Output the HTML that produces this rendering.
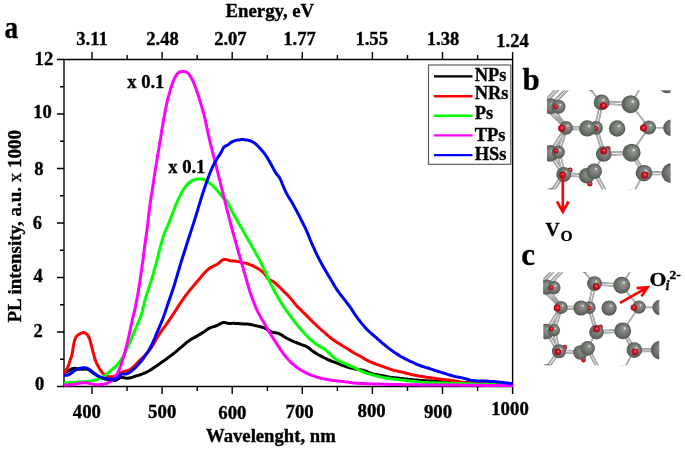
<!DOCTYPE html>
<html><head><meta charset="utf-8"><title>PL spectra</title>
<style>html,body{margin:0;padding:0;background:#fff;}svg{display:block;}</style>
</head><body>
<svg width="685" height="452" viewBox="0 0 685 452">
<rect width="685" height="452" fill="#fff"/>
<defs>
<radialGradient id="gz" cx="0.5" cy="0.5" r="0.5" fx="0.64" fy="0.33">
<stop offset="0" stop-color="#ffffff"/><stop offset="0.07" stop-color="#d0d4d0"/><stop offset="0.2" stop-color="#8d928d"/>
<stop offset="0.6" stop-color="#747973"/><stop offset="1" stop-color="#535853"/></radialGradient>
<radialGradient id="go" cx="0.5" cy="0.5" r="0.5" fx="0.6" fy="0.4">
<stop offset="0" stop-color="#ff8a8a"/><stop offset="0.35" stop-color="#e0202a"/>
<stop offset="1" stop-color="#a00010"/></radialGradient>
<clipPath id="cb"><rect x="547" y="90.3" width="123.6" height="99"/></clipPath>
<clipPath id="cc"><path d="M547,90.3H648V96H670.6V189.3H547Z"/></clipPath>
<clipPath id="plot"><rect x="64" y="59.5" width="449" height="328"/></clipPath>
</defs>
<path d="M64.0,59.5H512.6V386.5H64.0Z" fill="none" stroke="#000" stroke-width="1.4"/>
<path d="M92.0,386.5V394.0M92.0,59.5V52.0M127.1,386.5V391.0M127.1,59.5V55.0M162.1,386.5V394.0M162.1,59.5V52.0M197.2,386.5V391.0M197.2,59.5V55.0M232.2,386.5V394.0M232.2,59.5V52.0M267.3,386.5V391.0M267.3,59.5V55.0M302.3,386.5V394.0M302.3,59.5V52.0M337.4,386.5V391.0M337.4,59.5V55.0M372.4,386.5V394.0M372.4,59.5V52.0M407.5,386.5V391.0M407.5,59.5V55.0M442.5,386.5V394.0M442.5,59.5V52.0M477.6,386.5V391.0M477.6,59.5V55.0M512.6,386.5V394.0M512.6,59.5V52.0M64.0,386.5H57.0M64.0,359.2H60.0M64.0,332.0H57.0M64.0,304.8H60.0M64.0,277.5H57.0M64.0,250.2H60.0M64.0,223.0H57.0M64.0,195.8H60.0M64.0,168.5H57.0M64.0,141.2H60.0M64.0,114.0H57.0M64.0,86.8H60.0M64.0,59.5H57.0" fill="none" stroke="#000" stroke-width="1.4"/>
<g clip-path="url(#plot)" fill="none" stroke-width="3" stroke-linejoin="round" stroke-linecap="round">
<path d="M64.8,372.3 65.7,372.0 67.0,371.5 68.4,370.9 69.7,370.1 70.9,369.4 72.3,368.7 73.7,368.4 75.1,368.3 76.6,368.6 78.0,369.0 79.5,369.2 81.0,369.3 82.4,369.2 83.9,369.0 85.4,368.9 86.8,369.1 88.2,369.6 89.5,370.3 90.8,371.1 92.0,372.0 93.2,372.9 94.4,373.7 95.7,374.6 96.9,375.4 98.2,376.1 99.5,376.8 100.9,377.5 102.2,378.1 103.6,378.6 105.1,379.0 106.6,379.3 108.0,379.6 109.5,379.9 111.0,380.2 112.5,380.4 113.9,380.4 115.4,380.3 116.8,379.9 118.0,379.1 119.2,378.2 120.4,377.6 121.8,377.4 123.3,377.5 124.7,377.9 126.2,378.2 127.6,378.3 129.1,378.1 130.5,377.8 131.9,377.3 133.4,376.8 134.8,376.3 136.2,375.9 137.7,375.5 139.1,375.1 140.5,374.7 141.9,374.1 143.3,373.6 144.7,373.0 146.1,372.4 147.4,371.7 148.7,371.0 150.0,370.2 151.3,369.4 152.6,368.6 153.8,367.8 155.1,366.9 156.3,366.1 157.5,365.2 158.7,364.4 160.0,363.5 161.2,362.6 162.4,361.8 163.7,360.9 164.9,360.1 166.1,359.2 167.3,358.3 168.5,357.4 169.7,356.5 170.9,355.6 172.1,354.7 173.3,353.8 174.5,352.8 175.6,351.9 176.8,351.0 177.9,350.0 179.1,349.0 180.2,348.0 181.4,347.1 182.5,346.1 183.6,345.1 184.8,344.1 185.9,343.2 187.1,342.2 188.2,341.3 189.5,340.4 190.7,339.6 192.0,338.8 193.3,338.1 194.6,337.4 196.0,336.6 197.3,335.9 198.5,335.1 199.8,334.4 201.1,333.6 202.4,332.8 203.7,332.0 204.9,331.2 206.1,330.3 207.3,329.4 208.6,328.6 209.9,327.9 211.3,327.4 212.7,326.9 214.2,326.5 215.6,326.0 217.0,325.4 218.3,324.8 219.6,324.1 221.0,323.4 222.3,322.8 223.7,322.4 225.1,322.6 226.5,323.0 228.0,323.3 229.4,323.4 230.9,323.4 232.4,323.3 233.9,323.3 235.4,323.4 236.9,323.5 238.4,323.6 239.9,323.7 241.4,323.8 242.9,323.9 244.4,323.9 245.9,324.0 247.4,324.1 248.9,324.3 250.4,324.5 251.8,324.8 253.3,325.1 254.8,325.5 256.2,325.8 257.7,326.1 259.2,326.5 260.6,326.8 262.1,327.2 263.5,327.6 264.9,328.2 266.2,328.8 267.5,329.6 268.7,330.4 270.0,331.2 271.4,331.8 272.8,332.3 274.3,332.6 275.7,332.8 277.2,333.1 278.6,333.5 280.0,334.1 281.3,334.8 282.5,335.6 283.8,336.5 285.1,337.3 286.4,338.0 287.7,338.7 289.0,339.4 290.4,340.0 291.7,340.7 293.1,341.3 294.5,341.9 295.9,342.4 297.3,343.0 298.7,343.5 300.1,344.1 301.5,344.6 302.9,345.1 304.3,345.6 305.7,346.2 307.0,346.8 308.3,347.5 309.5,348.5 310.6,349.5 311.7,350.4 312.9,351.3 314.2,352.1 315.5,352.9 316.7,353.7 318.0,354.5 319.3,355.2 320.6,355.9 322.0,356.6 323.3,357.3 324.6,358.0 326.0,358.7 327.3,359.3 328.7,359.9 330.1,360.5 331.5,361.1 332.9,361.7 334.3,362.2 335.7,362.7 337.1,363.2 338.5,363.7 339.9,364.3 341.3,364.8 342.7,365.4 344.1,365.9 345.5,366.4 346.9,366.9 348.3,367.4 349.8,367.8 351.2,368.1 352.7,368.4 354.2,368.7 355.6,369.0 357.1,369.2 358.6,369.5 360.1,369.7 361.6,369.9 363.0,370.2 364.5,370.6 365.9,371.1 367.2,371.7 368.6,372.4 370.0,372.9 371.4,373.4 372.8,373.9 374.3,374.2 375.8,374.4 377.3,374.7 378.7,374.9 380.2,375.2 381.7,375.4 383.2,375.8 384.6,376.1 386.1,376.4 387.6,376.7 389.0,376.9 390.5,377.2 392.0,377.4 393.5,377.6 395.0,377.7 396.5,377.9 398.0,378.1 399.5,378.3 401.0,378.4 402.4,378.6 403.9,378.8 405.4,378.9 406.9,379.1 408.4,379.3 409.9,379.4 411.4,379.6 412.9,379.7 414.4,379.9 415.9,380.0 417.4,380.1 418.9,380.3 420.4,380.4 421.8,380.5 423.3,380.6 424.8,380.7 426.3,380.8 427.8,380.9 429.3,381.0 430.8,381.1 432.3,381.1 433.8,381.2 435.3,381.3 436.8,381.3 438.3,381.4 439.8,381.5 441.3,381.5 442.8,381.5 444.3,381.5 445.8,381.6 447.3,381.6 448.8,381.6 450.3,381.7 451.8,381.7 453.3,381.8 454.8,381.8 456.3,381.9 457.8,382.0 459.3,382.1 460.8,382.2 462.3,382.3 463.8,382.4 465.3,382.5 466.8,382.6 468.3,382.7 469.8,382.8 471.3,382.9 472.8,383.0 474.3,383.1 475.8,383.2 477.3,383.3 478.8,383.4 480.3,383.5 481.8,383.6 483.3,383.7 484.8,383.7 486.3,383.8 487.7,383.9 489.2,384.0 490.7,384.0 492.2,384.1 493.7,384.2 495.2,384.2 496.7,384.3 498.2,384.4 499.7,384.4 501.2,384.5 502.7,384.6 504.2,384.6 505.7,384.7 507.2,384.8 508.7,384.8 510.2,384.9 511.4,385.0" stroke="#000"/>
<path d="M64.5,372.6 65.1,371.8 65.9,370.6 66.7,369.4 67.4,368.1 68.0,366.7 68.5,365.3 69.0,363.9 69.5,362.4 69.9,361.0 70.4,359.6 70.9,358.2 71.4,356.7 71.8,355.3 72.1,353.8 72.4,352.4 72.7,350.9 72.9,349.4 73.1,347.9 73.3,346.5 73.6,345.0 73.9,343.5 74.2,342.0 74.6,340.6 75.1,339.2 75.6,337.8 76.4,336.5 77.4,335.5 78.6,334.6 79.9,333.8 81.2,333.1 82.6,332.7 84.0,332.6 85.3,333.1 86.5,333.9 87.5,335.0 88.3,336.2 89.0,337.5 89.6,338.9 90.0,340.4 90.4,341.8 90.8,343.3 91.1,344.7 91.5,346.2 91.9,347.6 92.3,349.1 92.6,350.5 93.0,352.0 93.4,353.4 93.8,354.9 94.2,356.3 94.6,357.8 95.1,359.2 95.6,360.6 96.1,362.0 96.7,363.4 97.4,364.7 98.1,366.0 98.8,367.4 99.5,368.7 100.3,369.9 101.1,371.2 102.0,372.4 103.0,373.5 104.1,374.5 105.3,375.4 106.6,376.0 108.0,376.5 109.5,376.7 111.0,376.8 112.5,376.7 113.9,376.5 115.4,376.0 116.7,375.4 118.0,374.7 119.3,373.9 120.5,373.0 121.8,372.3 123.2,371.8 124.6,371.4 126.1,371.0 127.5,370.7 128.9,370.2 130.2,369.5 131.4,368.6 132.5,367.6 133.6,366.5 134.7,365.5 135.8,364.5 136.8,363.4 137.9,362.3 138.9,361.3 140.0,360.2 141.1,359.2 142.1,358.1 143.2,357.1 144.3,356.0 145.3,354.9 146.4,353.8 147.3,352.7 148.3,351.6 149.3,350.4 150.2,349.2 151.1,348.0 151.9,346.8 152.7,345.5 153.5,344.2 154.2,342.9 154.9,341.6 155.6,340.3 156.4,339.0 157.1,337.7 157.9,336.4 158.8,335.1 159.6,333.9 160.4,332.7 161.3,331.4 162.1,330.2 163.0,329.0 163.9,327.7 164.8,326.5 165.7,325.3 166.5,324.1 167.4,322.9 168.3,321.7 169.1,320.4 169.9,319.2 170.8,317.9 171.6,316.7 172.4,315.4 173.2,314.2 174.0,312.9 174.9,311.6 175.7,310.4 176.5,309.1 177.3,307.9 178.1,306.6 178.9,305.3 179.7,304.1 180.6,302.8 181.4,301.6 182.3,300.3 183.1,299.1 184.0,297.9 184.9,296.7 185.7,295.5 186.6,294.3 187.6,293.1 188.5,291.9 189.4,290.7 190.4,289.6 191.3,288.4 192.3,287.3 193.3,286.1 194.2,285.0 195.2,283.8 196.2,282.7 197.1,281.5 198.1,280.4 199.1,279.2 200.0,278.1 201.0,277.0 202.0,275.8 203.0,274.7 203.9,273.5 204.9,272.4 206.0,271.3 207.0,270.3 208.2,269.3 209.4,268.4 210.7,267.6 212.0,266.9 213.3,266.2 214.6,265.5 216.0,264.9 217.3,264.2 218.5,263.3 219.6,262.3 220.7,261.3 221.9,260.4 223.1,259.7 224.5,259.4 225.9,259.5 227.4,259.8 228.8,260.3 230.2,260.7 231.7,261.0 233.2,261.0 234.7,261.1 236.1,261.2 237.6,261.5 239.1,261.8 240.6,262.1 242.0,262.4 243.5,262.8 244.9,263.1 246.4,263.4 247.8,263.8 249.3,264.3 250.7,264.8 252.0,265.4 253.4,266.1 254.7,266.8 256.0,267.5 257.3,268.3 258.6,269.0 259.9,269.8 261.1,270.7 262.3,271.6 263.4,272.6 264.4,273.7 265.3,274.9 266.2,276.1 267.1,277.3 268.0,278.5 269.1,279.5 270.3,280.1 271.6,280.7 272.9,281.4 274.1,282.3 275.3,283.2 276.4,284.2 277.5,285.2 278.6,286.2 279.7,287.2 280.8,288.3 281.8,289.4 282.9,290.4 283.9,291.5 285.0,292.6 286.1,293.6 287.1,294.7 288.2,295.7 289.2,296.8 290.2,297.9 291.2,299.1 292.1,300.2 293.1,301.4 294.0,302.6 294.9,303.7 295.9,304.9 296.9,306.0 298.0,307.1 299.0,308.1 300.1,309.2 301.2,310.2 302.2,311.3 303.3,312.3 304.4,313.4 305.4,314.4 306.5,315.5 307.6,316.6 308.6,317.6 309.7,318.7 310.7,319.8 311.8,320.8 312.8,321.9 313.9,323.0 315.0,324.0 316.1,325.0 317.2,326.1 318.3,327.1 319.4,328.1 320.5,329.1 321.6,330.1 322.8,331.1 323.9,332.0 325.0,333.0 326.1,334.0 327.3,335.0 328.4,336.0 329.5,337.0 330.7,338.0 331.9,338.9 333.1,339.8 334.3,340.6 335.6,341.4 336.8,342.2 338.1,343.0 339.4,343.8 340.7,344.6 341.9,345.4 343.2,346.2 344.5,347.0 345.8,347.7 347.0,348.5 348.3,349.3 349.6,350.1 350.8,350.9 352.1,351.7 353.4,352.6 354.6,353.3 356.0,354.0 357.3,354.7 358.6,355.4 360.0,356.1 361.3,356.8 362.6,357.6 363.8,358.4 365.1,359.2 366.4,359.9 367.8,360.6 369.1,361.2 370.5,361.8 371.9,362.4 373.3,363.0 374.6,363.5 376.0,364.1 377.4,364.6 378.8,365.2 380.2,365.7 381.7,366.2 383.1,366.7 384.5,367.2 385.9,367.7 387.3,368.2 388.7,368.7 390.2,369.2 391.6,369.6 393.0,370.1 394.5,370.5 395.9,370.8 397.4,371.1 398.8,371.5 400.3,371.8 401.8,372.1 403.2,372.4 404.7,372.8 406.2,373.2 407.6,373.5 409.1,373.9 410.5,374.3 412.0,374.6 413.4,374.9 414.9,375.2 416.4,375.5 417.8,375.8 419.3,376.1 420.8,376.4 422.3,376.6 423.8,376.8 425.2,377.0 426.7,377.3 428.2,377.5 429.7,377.7 431.2,377.9 432.7,378.1 434.2,378.3 435.6,378.6 437.1,378.8 438.6,379.0 440.1,379.1 441.6,379.3 443.1,379.4 444.6,379.6 446.1,379.7 447.6,379.9 449.1,380.0 450.5,380.2 452.0,380.4 453.5,380.6 455.0,380.9 456.4,381.3 457.9,381.6 459.4,382.0 460.8,382.2 462.3,382.4 463.8,382.6 465.3,382.8 466.8,382.9 468.3,383.1 469.8,383.2 471.3,383.3 472.8,383.4 474.3,383.5 475.8,383.5 477.3,383.6 478.8,383.6 480.3,383.6 481.8,383.6 483.3,383.6 484.8,383.6 486.3,383.6 487.8,383.6 489.3,383.7 490.8,383.7 492.3,383.7 493.8,383.8 495.3,383.8 496.8,383.9 498.3,383.9 499.8,384.0 501.3,384.0 502.8,384.1 504.3,384.2 505.8,384.2 507.3,384.3 508.8,384.3 510.2,384.4 511.5,384.5" stroke="#ff0000"/>
<path d="M64.6,382.9 65.6,382.8 67.0,382.7 68.5,382.7 70.0,382.6 71.5,382.5 73.0,382.4 74.5,382.3 76.0,382.2 77.5,382.1 79.0,382.0 80.5,381.9 82.0,381.8 83.5,381.7 85.0,381.6 86.5,381.5 88.0,381.4 89.4,381.3 90.9,381.0 92.4,380.8 93.9,380.4 95.3,380.0 96.7,379.5 98.1,379.0 99.5,378.4 100.8,377.7 102.2,377.1 103.5,376.4 104.8,375.6 106.0,374.7 107.1,373.7 108.3,372.7 109.4,371.8 110.5,370.8 111.7,369.9 112.9,368.9 114.0,368.0 115.2,367.0 116.2,365.9 117.2,364.8 118.2,363.7 119.1,362.5 120.0,361.3 120.9,360.1 121.7,358.8 122.5,357.6 123.3,356.3 124.0,355.0 124.7,353.6 125.4,352.3 126.0,350.9 126.6,349.6 127.2,348.2 127.9,346.8 128.5,345.4 129.1,344.1 129.7,342.7 130.3,341.3 130.8,339.9 131.4,338.6 132.0,337.2 132.6,335.8 133.2,334.4 133.8,333.0 134.4,331.7 135.0,330.3 135.6,328.9 136.1,327.5 136.7,326.1 137.3,324.7 137.9,323.4 138.4,322.0 139.0,320.6 139.6,319.2 140.2,317.8 140.7,316.4 141.2,315.0 141.7,313.6 142.1,312.1 142.4,310.7 142.8,309.2 143.1,307.8 143.5,306.3 143.8,304.9 144.2,303.4 144.5,301.9 144.9,300.5 145.3,299.0 145.7,297.6 146.1,296.2 146.6,294.7 147.0,293.3 147.5,291.9 148.0,290.5 148.5,289.0 148.9,287.6 149.4,286.2 149.9,284.7 150.3,283.3 150.8,281.9 151.2,280.5 151.7,279.0 152.1,277.6 152.5,276.2 153.0,274.7 153.4,273.3 153.8,271.8 154.2,270.4 154.6,269.0 155.0,267.5 155.4,266.1 155.8,264.6 156.2,263.2 156.6,261.7 157.0,260.3 157.4,258.8 157.7,257.4 158.1,255.9 158.4,254.4 158.8,253.0 159.1,251.5 159.5,250.1 159.9,248.6 160.3,247.2 160.6,245.7 161.0,244.3 161.4,242.8 161.9,241.4 162.3,240.0 162.7,238.5 163.2,237.1 163.6,235.7 164.1,234.2 164.6,232.8 165.2,231.4 165.8,230.1 166.4,228.7 167.0,227.3 167.6,225.9 168.2,224.6 168.8,223.2 169.3,221.8 169.9,220.4 170.4,219.0 170.9,217.6 171.5,216.2 172.0,214.8 172.5,213.4 173.0,212.0 173.6,210.6 174.1,209.2 174.7,207.8 175.2,206.4 175.8,205.0 176.4,203.6 177.0,202.3 177.6,200.9 178.2,199.5 178.9,198.2 179.5,196.8 180.2,195.4 180.8,194.1 181.5,192.8 182.3,191.5 183.0,190.2 183.8,188.9 184.7,187.7 185.5,186.5 186.5,185.3 187.5,184.2 188.6,183.1 189.7,182.2 191.0,181.4 192.3,180.7 193.7,180.1 195.1,179.6 196.5,179.3 198.0,179.1 199.5,179.0 201.0,179.1 202.5,179.2 203.9,179.6 205.3,180.1 206.6,180.8 207.9,181.7 209.1,182.6 210.2,183.5 211.4,184.5 212.5,185.5 213.6,186.5 214.6,187.6 215.6,188.7 216.6,189.8 217.6,191.0 218.5,192.1 219.5,193.3 220.4,194.5 221.3,195.7 222.3,196.8 223.4,197.8 224.5,198.7 225.7,199.7 226.6,200.8 227.4,202.0 228.2,203.3 228.9,204.7 229.5,206.0 230.2,207.4 230.8,208.7 231.4,210.1 232.1,211.4 232.8,212.8 233.5,214.1 234.2,215.4 235.0,216.7 235.7,218.0 236.5,219.3 237.2,220.6 238.0,221.9 238.7,223.2 239.5,224.5 240.2,225.8 241.0,227.1 241.7,228.4 242.4,229.7 243.2,231.0 243.9,232.3 244.7,233.6 245.4,234.9 246.1,236.2 246.9,237.5 247.6,238.9 248.4,240.2 249.1,241.5 249.9,242.8 250.6,244.1 251.4,245.4 252.1,246.7 252.9,248.0 253.6,249.2 254.4,250.6 255.1,251.9 255.8,253.2 256.6,254.5 257.3,255.8 258.0,257.1 258.7,258.4 259.4,259.8 260.1,261.1 260.8,262.4 261.4,263.8 262.1,265.1 262.8,266.5 263.4,267.8 264.1,269.2 264.7,270.5 265.4,271.9 266.0,273.2 266.6,274.6 267.1,276.0 267.7,277.4 268.3,278.8 269.0,280.1 269.6,281.5 270.2,282.8 270.9,284.2 271.6,285.5 272.2,286.9 272.9,288.2 273.6,289.5 274.3,290.9 275.0,292.2 275.7,293.5 276.5,294.8 277.2,296.1 277.9,297.4 278.7,298.7 279.5,300.0 280.3,301.3 281.0,302.6 281.9,303.8 282.7,305.1 283.5,306.3 284.3,307.6 285.2,308.8 286.0,310.0 286.9,311.3 287.8,312.5 288.6,313.7 289.5,314.9 290.4,316.1 291.3,317.4 292.2,318.6 293.1,319.7 294.0,320.9 294.9,322.1 295.9,323.3 296.8,324.5 297.7,325.6 298.7,326.8 299.7,327.9 300.6,329.1 301.6,330.2 302.6,331.3 303.6,332.5 304.6,333.6 305.6,334.7 306.7,335.8 307.7,336.8 308.8,337.9 309.8,338.9 310.9,340.0 312.1,340.9 313.2,341.9 314.4,342.8 315.6,343.7 316.9,344.5 318.1,345.3 319.4,346.1 320.7,346.9 322.0,347.6 323.3,348.4 324.5,349.2 325.7,350.1 326.9,351.1 328.0,352.1 329.0,353.2 330.1,354.2 331.2,355.3 332.3,356.3 333.4,357.3 334.6,358.2 335.8,359.0 337.1,359.8 338.4,360.6 339.7,361.3 341.1,361.9 342.4,362.6 343.8,363.2 345.2,363.8 346.5,364.4 347.9,365.0 349.3,365.5 350.7,366.0 352.1,366.6 353.5,367.2 354.9,367.8 356.2,368.5 357.5,369.2 358.8,369.9 360.2,370.6 361.5,371.3 362.9,371.9 364.3,372.4 365.7,372.9 367.1,373.4 368.6,373.8 370.0,374.2 371.5,374.6 372.9,375.0 374.3,375.4 375.8,375.8 377.3,376.1 378.7,376.5 380.2,376.8 381.6,377.1 383.1,377.4 384.6,377.7 386.1,378.0 387.6,378.2 389.0,378.4 390.5,378.7 392.0,378.9 393.5,379.0 395.0,379.2 396.5,379.4 398.0,379.6 399.4,379.8 400.9,379.9 402.4,380.1 403.9,380.3 405.4,380.5 406.9,380.7 408.4,380.8 409.9,381.0 411.4,381.2 412.9,381.3 414.3,381.5 415.8,381.7 417.3,381.8 418.8,382.0 420.3,382.1 421.8,382.3 423.3,382.4 424.8,382.5 426.3,382.6 427.8,382.6 429.3,382.7 430.8,382.7 432.3,382.8 433.8,382.8 435.3,382.8 436.8,382.9 438.3,382.9 439.8,383.0 441.3,383.0 442.8,383.0 444.3,383.1 445.8,383.1 447.3,383.2 448.8,383.2 450.3,383.3 451.8,383.3 453.3,383.4 454.8,383.4 456.3,383.5 457.8,383.5 459.3,383.6 460.8,383.6 462.3,383.6 463.8,383.7 465.3,383.7 466.8,383.8 468.3,383.8 469.8,383.8 471.3,383.9 472.8,383.9 474.3,384.0 475.8,384.0 477.3,384.0 478.8,384.1 480.3,384.1 481.8,384.2 483.3,384.2 484.8,384.3 486.3,384.3 487.8,384.3 489.3,384.4 490.8,384.4 492.3,384.5 493.8,384.5 495.3,384.5 496.8,384.6 498.3,384.6 499.8,384.7 501.3,384.7 502.8,384.7 504.3,384.8 505.8,384.8 507.3,384.9 508.8,384.9 510.2,384.9 511.5,385.0" stroke="#00ff00"/>
<path d="M64.6,385.1 65.6,385.0 67.0,385.0 68.5,384.9 70.0,384.8 71.5,384.7 73.0,384.5 74.5,384.3 75.9,384.0 77.4,383.7 78.8,383.3 80.3,383.1 81.8,382.9 83.3,382.7 84.8,382.7 86.3,382.8 87.7,383.1 89.2,383.4 90.7,383.8 92.1,384.1 93.6,384.4 95.1,384.6 96.6,384.7 98.1,384.7 99.6,384.6 101.1,384.6 102.6,384.4 104.0,384.2 105.5,383.8 106.9,383.3 108.3,382.7 109.6,382.0 110.9,381.3 112.1,380.4 113.2,379.4 114.2,378.2 115.1,377.1 115.9,375.8 116.8,374.6 117.5,373.3 118.2,371.9 118.8,370.6 119.4,369.2 119.9,367.8 120.5,366.4 121.0,365.0 121.5,363.6 121.9,362.1 122.4,360.7 122.8,359.3 123.3,357.8 123.7,356.4 124.1,355.0 124.5,353.5 124.9,352.1 125.2,350.6 125.6,349.2 126.0,347.7 126.4,346.3 126.8,344.8 127.1,343.4 127.5,341.9 127.8,340.4 128.2,339.0 128.5,337.5 128.8,336.1 129.2,334.6 129.5,333.1 129.8,331.7 130.1,330.2 130.4,328.7 130.7,327.3 131.0,325.8 131.3,324.3 131.7,322.8 132.0,321.4 132.3,319.9 132.6,318.5 133.0,317.0 133.4,315.5 133.7,314.1 134.1,312.6 134.5,311.2 134.8,309.7 135.2,308.3 135.5,306.8 135.8,305.3 136.1,303.9 136.3,302.4 136.6,300.9 136.9,299.4 137.1,298.0 137.4,296.5 137.7,295.0 137.9,293.5 138.2,292.0 138.4,290.6 138.7,289.1 138.9,287.6 139.2,286.1 139.4,284.6 139.6,283.2 139.9,281.7 140.1,280.2 140.3,278.7 140.5,277.2 140.7,275.7 140.9,274.3 141.1,272.8 141.4,271.3 141.6,269.8 141.8,268.3 142.0,266.8 142.2,265.3 142.4,263.9 142.6,262.4 142.8,260.9 143.0,259.4 143.2,257.9 143.4,256.4 143.6,254.9 143.8,253.5 144.0,252.0 144.2,250.5 144.3,249.0 144.5,247.5 144.7,246.0 144.9,244.5 145.1,243.0 145.3,241.6 145.5,240.1 145.8,238.6 146.0,237.1 146.2,235.6 146.4,234.1 146.6,232.6 146.8,231.2 147.0,229.7 147.2,228.2 147.4,226.7 147.6,225.2 147.8,223.7 147.9,222.2 148.1,220.7 148.3,219.2 148.4,217.8 148.6,216.3 148.8,214.8 148.9,213.3 149.1,211.8 149.3,210.3 149.5,208.8 149.7,207.3 149.9,205.8 150.0,204.4 150.2,202.9 150.5,201.4 150.7,199.9 150.9,198.4 151.1,196.9 151.4,195.5 151.6,194.0 151.9,192.5 152.1,191.0 152.3,189.5 152.6,188.1 152.8,186.6 153.0,185.1 153.3,183.6 153.5,182.1 153.7,180.6 153.9,179.2 154.1,177.7 154.4,176.2 154.6,174.7 154.8,173.2 155.0,171.7 155.3,170.3 155.5,168.8 155.7,167.3 156.0,165.8 156.2,164.3 156.5,162.8 156.7,161.4 157.0,159.9 157.2,158.4 157.4,156.9 157.7,155.4 157.9,154.0 158.2,152.5 158.4,151.0 158.7,149.5 158.9,148.1 159.2,146.6 159.4,145.1 159.7,143.6 159.9,142.1 160.2,140.7 160.4,139.2 160.7,137.7 160.9,136.2 161.1,134.7 161.4,133.3 161.6,131.8 161.8,130.3 162.1,128.8 162.3,127.3 162.6,125.8 162.8,124.4 163.1,122.9 163.3,121.4 163.6,119.9 163.8,118.5 164.1,117.0 164.4,115.5 164.7,114.0 165.0,112.6 165.2,111.1 165.5,109.6 165.8,108.1 166.1,106.7 166.4,105.2 166.7,103.7 167.1,102.3 167.4,100.8 167.7,99.4 168.1,97.9 168.5,96.5 168.9,95.0 169.3,93.6 169.7,92.1 170.1,90.7 170.5,89.2 171.0,87.8 171.4,86.4 171.9,85.0 172.4,83.5 172.9,82.1 173.5,80.7 174.1,79.4 174.7,78.0 175.4,76.7 176.2,75.4 177.0,74.1 178.0,73.1 179.2,72.2 180.5,71.7 182.0,71.4 183.5,71.4 184.9,71.6 186.3,72.1 187.5,72.9 188.6,73.9 189.5,75.1 190.4,76.3 191.1,77.6 191.9,78.9 192.5,80.2 193.2,81.6 193.8,83.0 194.3,84.4 194.9,85.8 195.4,87.2 195.9,88.6 196.4,90.0 196.9,91.4 197.4,92.8 197.9,94.2 198.4,95.7 198.8,97.1 199.3,98.5 199.7,100.0 200.2,101.4 200.6,102.8 201.0,104.3 201.4,105.7 201.9,107.1 202.3,108.6 202.7,110.0 203.1,111.5 203.5,112.9 203.9,114.4 204.2,115.8 204.6,117.3 204.9,118.7 205.3,120.2 205.6,121.7 205.9,123.1 206.3,124.6 206.6,126.1 206.9,127.5 207.2,129.0 207.5,130.5 207.8,131.9 208.1,133.4 208.4,134.9 208.8,136.3 209.1,137.8 209.4,139.3 209.8,140.7 210.1,142.2 210.5,143.6 210.8,145.1 211.2,146.5 211.6,148.0 212.0,149.4 212.3,150.9 212.7,152.3 213.1,153.8 213.4,155.3 213.8,156.7 214.2,158.2 214.5,159.6 214.9,161.1 215.3,162.5 215.6,164.0 216.0,165.4 216.4,166.9 216.7,168.3 217.1,169.8 217.5,171.3 217.8,172.7 218.2,174.2 218.6,175.6 218.9,177.1 219.3,178.5 219.7,180.0 220.0,181.4 220.4,182.9 220.8,184.4 221.1,185.8 221.5,187.3 221.8,188.7 222.2,190.2 222.5,191.6 222.9,193.1 223.2,194.6 223.6,196.0 224.0,197.5 224.3,198.9 224.7,200.4 225.1,201.8 225.4,203.3 225.8,204.7 226.2,206.2 226.5,207.6 226.9,209.1 227.3,210.6 227.6,212.0 228.0,213.5 228.3,214.9 228.7,216.4 229.1,217.8 229.4,219.3 229.8,220.7 230.2,222.2 230.6,223.6 231.0,225.1 231.3,226.5 231.7,228.0 232.1,229.4 232.5,230.9 232.9,232.3 233.4,233.8 233.8,235.2 234.2,236.7 234.6,238.1 235.0,239.5 235.4,241.0 235.8,242.4 236.2,243.9 236.6,245.3 237.0,246.8 237.4,248.2 237.8,249.7 238.2,251.1 238.6,252.5 239.0,254.0 239.5,255.4 239.9,256.9 240.3,258.3 240.7,259.8 241.1,261.2 241.5,262.6 241.9,264.1 242.3,265.5 242.8,267.0 243.2,268.4 243.6,269.8 244.0,271.3 244.4,272.7 244.9,274.2 245.3,275.6 245.7,277.0 246.1,278.5 246.5,279.9 246.9,281.4 247.3,282.8 247.7,284.3 248.1,285.7 248.5,287.2 248.9,288.6 249.4,290.0 249.8,291.5 250.3,292.9 250.8,294.3 251.3,295.7 251.8,297.1 252.3,298.5 252.9,299.9 253.4,301.3 253.9,302.7 254.5,304.1 255.0,305.5 255.6,306.9 256.2,308.3 256.8,309.7 257.4,311.0 258.1,312.4 258.8,313.7 259.5,315.0 260.2,316.3 261.0,317.6 261.7,318.9 262.5,320.2 263.2,321.5 264.0,322.8 264.7,324.1 265.5,325.4 266.2,326.7 267.0,328.0 267.7,329.3 268.5,330.6 269.2,331.9 270.0,333.2 270.8,334.5 271.6,335.8 272.4,337.0 273.2,338.3 274.0,339.6 274.8,340.8 275.6,342.1 276.4,343.3 277.2,344.6 278.0,345.9 278.9,347.1 279.7,348.4 280.5,349.6 281.4,350.8 282.3,352.1 283.1,353.3 284.0,354.5 285.0,355.7 285.9,356.8 286.8,358.0 287.8,359.1 288.8,360.2 289.9,361.3 290.9,362.4 292.0,363.4 293.2,364.4 294.3,365.3 295.5,366.3 296.7,367.2 297.9,368.0 299.2,368.9 300.4,369.7 301.7,370.5 303.0,371.3 304.3,372.0 305.6,372.7 307.0,373.4 308.3,374.0 309.7,374.6 311.1,375.2 312.5,375.7 313.9,376.2 315.3,376.7 316.7,377.1 318.2,377.5 319.6,377.9 321.1,378.3 322.5,378.6 324.0,378.9 325.5,379.2 327.0,379.5 328.4,379.7 329.9,380.0 331.4,380.2 332.9,380.4 334.4,380.6 335.9,380.7 337.4,380.9 338.8,381.1 340.3,381.3 341.8,381.4 343.3,381.6 344.8,381.8 346.3,381.9 347.8,382.1 349.3,382.4 350.8,382.6 352.2,382.8 353.7,382.9 355.2,383.1 356.7,383.2 358.2,383.3 359.7,383.4 361.2,383.5 362.7,383.5 364.2,383.6 365.7,383.7 367.2,383.7 368.7,383.8 370.2,383.8 371.7,383.9 373.2,383.9 374.7,384.0 376.2,384.0 377.7,384.1 379.2,384.1 380.7,384.2 382.2,384.2 383.7,384.2 385.2,384.3 386.7,384.3 388.2,384.4 389.7,384.4 391.2,384.4 392.7,384.5 394.2,384.5 395.7,384.5 397.2,384.5 398.7,384.6 400.2,384.6 401.7,384.6 403.2,384.7 404.7,384.7 406.2,384.7 407.7,384.7 409.2,384.7 410.7,384.8 412.2,384.8 413.7,384.8 415.2,384.8 416.7,384.8 418.2,384.8 419.7,384.8 421.2,384.9 422.7,384.9 424.2,384.9 425.7,384.9 427.2,384.9 428.7,384.9 430.2,384.9 431.7,384.9 433.2,384.9 434.7,385.0 436.2,385.0 437.7,385.0 439.2,385.0 440.7,385.0 442.2,385.0 443.7,385.0 445.2,385.0 446.7,385.0 448.2,385.1 449.7,385.1 451.2,385.1 452.7,385.1 454.2,385.1 455.7,385.1 457.2,385.1 458.7,385.1 460.2,385.2 461.7,385.2 463.2,385.2 464.7,385.2 466.2,385.2 467.7,385.2 469.2,385.2 470.7,385.2 472.2,385.3 473.7,385.3 475.2,385.3 476.7,385.3 478.2,385.3 479.7,385.3 481.2,385.3 482.7,385.3 484.2,385.4 485.7,385.4 487.2,385.4 488.7,385.4 490.2,385.4 491.7,385.4 493.2,385.4 494.7,385.4 496.2,385.5 497.7,385.5 499.2,385.5 500.7,385.5 502.2,385.5 503.7,385.5 505.2,385.5 506.7,385.6 508.2,385.6 509.7,385.6 511.0,385.6 512.0,385.6" stroke="#ff00ff"/>
<path d="M64.6,375.3 65.6,375.3 67.0,375.2 68.4,374.8 69.7,374.2 71.0,373.4 72.1,372.5 73.3,371.5 74.5,370.7 75.8,369.9 77.2,369.3 78.5,368.7 80.0,368.2 81.4,367.9 82.9,367.7 84.4,367.7 85.8,367.9 87.3,368.3 88.6,369.0 89.8,369.8 91.0,370.7 92.1,371.7 93.3,372.6 94.5,373.6 95.7,374.4 97.0,375.2 98.3,376.0 99.6,376.6 101.0,377.2 102.4,377.7 103.9,378.1 105.3,378.4 106.8,378.7 108.3,379.0 109.7,379.2 111.2,379.3 112.7,379.3 114.2,379.1 115.7,378.8 117.0,378.2 118.2,377.4 119.2,376.3 120.2,375.2 121.3,374.4 122.6,373.9 124.1,373.9 125.5,374.0 126.9,373.8 128.3,373.2 129.6,372.5 130.8,371.6 132.0,370.7 133.1,369.7 134.3,368.7 135.3,367.7 136.4,366.6 137.4,365.5 138.5,364.4 139.4,363.3 140.4,362.2 141.3,361.0 142.3,359.8 143.2,358.6 144.0,357.4 144.9,356.2 145.8,355.0 146.6,353.7 147.5,352.5 148.3,351.2 149.0,349.9 149.8,348.6 150.5,347.3 151.2,346.0 151.8,344.6 152.5,343.3 153.1,341.9 153.7,340.5 154.3,339.1 154.9,337.8 155.5,336.4 156.0,335.0 156.6,333.6 157.2,332.2 157.8,330.8 158.4,329.5 159.0,328.1 159.6,326.7 160.1,325.3 160.7,323.9 161.3,322.6 161.8,321.2 162.4,319.8 162.9,318.4 163.5,317.0 164.0,315.6 164.5,314.1 165.0,312.7 165.4,311.3 165.9,309.9 166.4,308.5 166.9,307.0 167.3,305.6 167.8,304.2 168.3,302.8 168.8,301.3 169.3,299.9 169.8,298.5 170.3,297.1 170.8,295.7 171.3,294.3 171.7,292.8 172.2,291.4 172.7,290.0 173.2,288.6 173.6,287.2 174.1,285.7 174.5,284.3 175.0,282.9 175.4,281.4 175.8,280.0 176.3,278.5 176.7,277.1 177.1,275.7 177.5,274.2 177.9,272.8 178.3,271.3 178.8,269.9 179.2,268.5 179.6,267.0 180.0,265.6 180.5,264.1 180.9,262.7 181.4,261.3 181.8,259.8 182.3,258.4 182.7,257.0 183.2,255.6 183.6,254.1 184.1,252.7 184.5,251.3 185.0,249.8 185.4,248.4 185.9,247.0 186.4,245.6 186.8,244.1 187.3,242.7 187.7,241.3 188.2,239.8 188.6,238.4 189.1,237.0 189.6,235.6 190.0,234.1 190.5,232.7 190.9,231.3 191.4,229.8 191.9,228.4 192.3,227.0 192.8,225.6 193.3,224.1 193.7,222.7 194.2,221.3 194.6,219.9 195.1,218.4 195.5,217.0 196.0,215.6 196.4,214.1 196.8,212.7 197.3,211.2 197.7,209.8 198.1,208.4 198.5,206.9 199.0,205.5 199.4,204.1 199.8,202.6 200.3,201.2 200.7,199.8 201.2,198.3 201.6,196.9 202.1,195.5 202.5,194.0 203.0,192.6 203.5,191.2 203.9,189.8 204.4,188.3 204.9,186.9 205.4,185.5 205.9,184.1 206.4,182.7 206.9,181.3 207.4,179.8 207.9,178.4 208.4,177.0 209.0,175.6 209.5,174.2 210.1,172.8 210.6,171.4 211.2,170.1 211.8,168.7 212.4,167.3 213.0,165.9 213.7,164.6 214.4,163.3 215.1,162.0 215.9,160.7 216.6,159.4 217.4,158.1 218.2,156.8 219.0,155.6 219.9,154.3 220.7,153.1 221.4,151.8 222.1,150.4 222.7,149.1 223.4,147.8 224.3,146.7 225.5,146.0 226.8,145.5 228.1,144.8 229.2,143.8 230.3,142.9 231.6,142.1 232.9,141.4 234.3,140.9 235.7,140.4 237.2,140.1 238.7,139.9 240.2,139.7 241.7,139.6 243.2,139.6 244.7,139.7 246.1,139.9 247.6,140.1 249.1,140.5 250.5,140.9 251.9,141.5 253.2,142.2 254.5,143.0 255.6,143.9 256.7,144.9 257.8,146.0 258.8,147.1 259.8,148.2 260.8,149.3 261.8,150.4 262.8,151.5 263.8,152.7 264.7,153.9 265.6,155.1 266.4,156.3 267.2,157.6 268.0,158.9 268.7,160.2 269.5,161.5 270.2,162.8 270.9,164.1 271.7,165.4 272.4,166.8 273.1,168.1 273.8,169.4 274.5,170.7 275.3,172.0 276.1,173.3 277.0,174.5 278.0,175.6 278.9,176.8 279.7,178.1 280.4,179.4 281.0,180.7 281.6,182.1 282.1,183.5 282.7,184.9 283.3,186.3 283.9,187.7 284.5,189.0 285.1,190.4 285.7,191.8 286.4,193.1 287.1,194.4 287.8,195.7 288.6,197.0 289.4,198.3 290.2,199.6 291.0,200.8 291.8,202.1 292.5,203.4 293.3,204.7 294.0,206.0 294.7,207.3 295.4,208.7 296.1,210.0 296.8,211.3 297.5,212.6 298.2,214.0 298.9,215.3 299.6,216.6 300.3,218.0 300.9,219.3 301.6,220.7 302.3,222.0 303.0,223.3 303.6,224.7 304.3,226.0 305.0,227.4 305.6,228.7 306.2,230.1 306.8,231.5 307.4,232.8 308.0,234.2 308.6,235.6 309.1,237.0 309.7,238.4 310.2,239.8 310.8,241.2 311.4,242.6 312.0,243.9 312.6,245.3 313.2,246.7 313.9,248.0 314.5,249.4 315.1,250.8 315.7,252.1 316.4,253.5 317.0,254.8 317.7,256.2 318.4,257.5 319.0,258.9 319.7,260.2 320.4,261.5 321.1,262.8 321.9,264.2 322.6,265.5 323.3,266.8 324.0,268.1 324.8,269.4 325.5,270.7 326.3,272.0 327.1,273.3 327.8,274.6 328.6,275.8 329.4,277.1 330.2,278.4 330.9,279.7 331.7,281.0 332.5,282.3 333.2,283.6 334.0,284.9 334.7,286.2 335.5,287.5 336.3,288.7 337.1,290.0 338.0,291.2 338.8,292.4 339.8,293.6 340.7,294.8 341.6,296.0 342.5,297.1 343.5,298.3 344.4,299.5 345.3,300.7 346.2,301.9 347.1,303.1 348.0,304.3 348.9,305.5 349.8,306.7 350.7,307.9 351.5,309.2 352.3,310.4 353.1,311.7 353.9,313.0 354.7,314.2 355.6,315.5 356.5,316.7 357.4,317.9 358.3,319.1 359.2,320.3 360.1,321.4 361.0,322.6 362.0,323.8 362.9,324.9 363.9,326.1 364.9,327.2 365.9,328.3 366.9,329.4 368.0,330.5 369.1,331.5 370.2,332.5 371.3,333.5 372.5,334.5 373.6,335.4 374.7,336.4 375.9,337.4 377.0,338.4 378.1,339.4 379.3,340.4 380.4,341.4 381.5,342.4 382.6,343.3 383.8,344.3 385.0,345.2 386.1,346.2 387.3,347.1 388.5,348.1 389.7,349.0 390.9,349.9 392.1,350.8 393.3,351.6 394.5,352.5 395.8,353.3 397.0,354.1 398.3,354.9 399.6,355.7 400.9,356.5 402.2,357.2 403.5,357.9 404.8,358.6 406.2,359.3 407.5,360.0 408.8,360.6 410.2,361.3 411.6,361.9 412.9,362.5 414.3,363.2 415.7,363.8 417.0,364.4 418.4,364.9 419.8,365.5 421.2,366.0 422.7,366.5 424.1,366.9 425.5,367.4 426.9,367.8 428.4,368.2 429.8,368.7 431.2,369.2 432.7,369.6 434.1,370.1 435.5,370.6 436.9,371.0 438.4,371.5 439.8,371.9 441.2,372.4 442.7,372.8 444.1,373.2 445.5,373.7 447.0,374.1 448.4,374.6 449.8,375.0 451.3,375.5 452.7,375.9 454.1,376.3 455.6,376.6 457.1,376.9 458.6,377.2 460.0,377.5 461.5,377.8 463.0,378.1 464.4,378.5 465.9,378.9 467.3,379.3 468.7,379.7 470.2,380.1 471.6,380.4 473.1,380.6 474.6,380.7 476.1,380.8 477.6,380.9 479.1,380.9 480.6,380.9 482.1,381.0 483.6,381.0 485.1,381.1 486.6,381.1 488.1,381.2 489.6,381.3 491.1,381.4 492.6,381.5 494.1,381.6 495.6,381.7 497.1,381.9 498.6,382.0 500.1,382.2 501.6,382.3 503.1,382.5 504.5,382.7 506.0,382.9 507.5,383.1 509.0,383.3 510.4,383.4 511.6,383.6" stroke="#0000ff"/>
</g>
<g font-family="'Liberation Serif', 'Times New Roman', serif" fill="#000" stroke="#000" stroke-width="0.35">
<text transform="translate(4.4,38.2) scale(0.88,1)" font-size="31" font-weight="bold">a</text>
<text x="225.5" y="16.8" font-size="18.8" font-weight="bold" text-anchor="start" >Energy, eV</text>
<text x="92.0" y="44.8" font-size="18.6" font-weight="bold" text-anchor="middle" >3.11</text>
<text x="162.6" y="44.8" font-size="18.6" font-weight="bold" text-anchor="middle" >2.48</text>
<text x="230.4" y="44.8" font-size="18.6" font-weight="bold" text-anchor="middle" >2.07</text>
<text x="299.5" y="44.8" font-size="18.6" font-weight="bold" text-anchor="middle" >1.77</text>
<text x="371.7" y="44.8" font-size="18.6" font-weight="bold" text-anchor="middle" >1.55</text>
<text x="443.0" y="44.8" font-size="18.6" font-weight="bold" text-anchor="middle" >1.38</text>
<text x="512.6" y="46.6" font-size="18.6" font-weight="bold" text-anchor="middle" >1.24</text>
<text x="86.9" y="417.5" font-size="18.8" font-weight="bold" text-anchor="middle" >400</text>
<text x="162.2" y="417.5" font-size="18.8" font-weight="bold" text-anchor="middle" >500</text>
<text x="232.4" y="418.5" font-size="18.8" font-weight="bold" text-anchor="middle" >600</text>
<text x="299.6" y="418.0" font-size="18.8" font-weight="bold" text-anchor="middle" >700</text>
<text x="371.6" y="417.0" font-size="18.8" font-weight="bold" text-anchor="middle" >800</text>
<text x="438.0" y="417.5" font-size="18.8" font-weight="bold" text-anchor="middle" >900</text>
<text x="510.0" y="414.5" font-size="18.8" font-weight="bold" text-anchor="middle" >1000</text>
<text x="206.0" y="441.6" font-size="18.7" font-weight="bold" text-anchor="start" >Wavelenght, nm</text>
<text x="39.7" y="389.6" font-size="18.6" font-weight="bold" text-anchor="middle" >0</text>
<text x="38.2" y="337.3" font-size="18.6" font-weight="bold" text-anchor="middle" >2</text>
<text x="38.2" y="281.8" font-size="18.6" font-weight="bold" text-anchor="middle" >4</text>
<text x="37.4" y="229.0" font-size="18.6" font-weight="bold" text-anchor="middle" >6</text>
<text x="38.9" y="174.8" font-size="18.6" font-weight="bold" text-anchor="middle" >8</text>
<text x="42.5" y="117.6" font-size="18.6" font-weight="bold" text-anchor="middle" >10</text>
<text x="43.9" y="64.9" font-size="18.6" font-weight="bold" text-anchor="middle" >12</text>
<text transform="translate(20.7,322.6) rotate(-90)" font-size="19" font-weight="bold">PL intensity, a.u. <tspan font-weight="normal">x</tspan> 1000</text>
<text x="127.2" y="87.9" font-size="18.6" font-weight="bold" text-anchor="start" >x 0.1</text>
<text x="168.2" y="172.8" font-size="18.6" font-weight="bold" text-anchor="start" >x 0.1</text>
</g>
<rect x="428.5" y="65" width="82.3" height="99.3" fill="#fff" stroke="#5e5e5e" stroke-width="1.2"/>
<g font-family="'Liberation Serif', 'Times New Roman', serif" fill="#000" stroke="#000" stroke-width="0.35">
<path d="M434,76.4H472.5" stroke="#000" stroke-width="2.4"/>
<text x="474.8" y="80.9" font-size="18.4" font-weight="bold" text-anchor="start" >NPs</text>
<path d="M434,96.2H472.5" stroke="#ff0000" stroke-width="2.4"/>
<text x="474.8" y="99.4" font-size="18.4" font-weight="bold" text-anchor="start" >NRs</text>
<path d="M434,115.8H472.5" stroke="#00ff00" stroke-width="2.4"/>
<text x="474.8" y="118.9" font-size="18.4" font-weight="bold" text-anchor="start" >Ps</text>
<path d="M434,135.4H472.5" stroke="#ff00ff" stroke-width="2.4"/>
<text x="474.8" y="140.7" font-size="18.4" font-weight="bold" text-anchor="start" >TPs</text>
<path d="M434,155.1H472.5" stroke="#0000ff" stroke-width="2.4"/>
<text x="474.8" y="160.0" font-size="18.4" font-weight="bold" text-anchor="start" >HSs</text>
</g>
<g clip-path="url(#cb)"><path d="M540.1,105.3L559.1,85.6M541.9,107.1L560.9,87.4M549.6,105.3L568.6,85.6M551.4,107.1L570.4,87.4M545.9,105.3L567.0,126.9M544.1,107.1L565.2,128.7M551.7,105.4L567.2,127.0M549.5,107.0L565.0,128.6M566.1,126.5L587.2,127.1M566.1,129.1L587.2,129.7M567.2,128.5L551.3,154.1M565.0,127.1L549.1,152.7M567.3,128.2L559.5,152.5M564.9,127.4L557.1,151.7M594.7,127.6L600.3,102.1M597.3,128.2L602.9,102.7M597.2,127.5L604.9,153.6M594.8,128.3L602.5,154.4M601.7,101.1L630.7,102.9M601.5,103.7L630.5,105.5M601.6,102.4L588.0,87.0M630.6,104.2L641.0,87.0M630.6,104.2L648.9,127.5M648.9,127.5L671.5,127.8M648.9,127.5L631.6,152.7M603.6,152.7L631.5,151.4M603.8,155.3L631.7,154.0M632.7,152.0L645.1,172.5M630.5,153.4L642.9,173.9M603.7,154.0L594.2,171.3M551.3,152.7L564.9,173.7M549.1,154.1L562.7,175.1M559.6,151.8L565.1,174.1M557.0,152.4L562.5,174.7M563.9,173.1L586.9,174.4M563.7,175.7L586.7,177.0M644.0,171.9L671.5,171.9M644.0,174.5L671.5,174.5M644.0,173.2L631.0,197.0M595.3,170.7L608.1,194.4M593.1,171.9L605.9,195.6M564.9,175.1L551.1,194.7M562.7,173.7L548.9,193.3M667.0,85.5L660.0,80.0" stroke="#8b8e8b" stroke-width="1.7" fill="none"/>
<path d="M540.1,105.3L559.1,85.6M541.9,107.1L560.9,87.4M549.6,105.3L568.6,85.6M551.4,107.1L570.4,87.4M545.9,105.3L567.0,126.9M544.1,107.1L565.2,128.7M551.7,105.4L567.2,127.0M549.5,107.0L565.0,128.6M566.1,126.5L587.2,127.1M566.1,129.1L587.2,129.7M567.2,128.5L551.3,154.1M565.0,127.1L549.1,152.7M567.3,128.2L559.5,152.5M564.9,127.4L557.1,151.7M594.7,127.6L600.3,102.1M597.3,128.2L602.9,102.7M597.2,127.5L604.9,153.6M594.8,128.3L602.5,154.4M601.7,101.1L630.7,102.9M601.5,103.7L630.5,105.5M601.6,102.4L588.0,87.0M630.6,104.2L641.0,87.0M630.6,104.2L648.9,127.5M648.9,127.5L671.5,127.8M648.9,127.5L631.6,152.7M603.6,152.7L631.5,151.4M603.8,155.3L631.7,154.0M632.7,152.0L645.1,172.5M630.5,153.4L642.9,173.9M603.7,154.0L594.2,171.3M551.3,152.7L564.9,173.7M549.1,154.1L562.7,175.1M559.6,151.8L565.1,174.1M557.0,152.4L562.5,174.7M563.9,173.1L586.9,174.4M563.7,175.7L586.7,177.0M644.0,171.9L671.5,171.9M644.0,174.5L671.5,174.5M644.0,173.2L631.0,197.0M595.3,170.7L608.1,194.4M593.1,171.9L605.9,195.6M564.9,175.1L551.1,194.7M562.7,173.7L548.9,193.3M667.0,85.5L660.0,80.0" stroke="#d2d4d2" stroke-width="0.6" fill="none"/>
<circle cx="545.0" cy="106.2" r="7.8" fill="url(#gz)"/>
<circle cx="550.6" cy="106.2" r="8.0" fill="url(#gz)"/>
<circle cx="558.4" cy="106.8" r="7.1" fill="url(#gz)"/>
<circle cx="555.6" cy="106.8" r="2.4" fill="url(#go)"/>
<circle cx="591.0" cy="83.5" r="7.3" fill="url(#gz)"/>
<circle cx="601.6" cy="102.4" r="7.9" fill="url(#gz)"/>
<circle cx="603.3" cy="105.7" r="3.5" fill="url(#go)"/>
<circle cx="630.6" cy="104.2" r="9.0" fill="url(#gz)"/>
<circle cx="667.0" cy="85.5" r="7.8" fill="url(#gz)"/>
<circle cx="596.0" cy="127.9" r="6.8" fill="url(#gz)"/>
<circle cx="595.5" cy="128.4" r="2.6" fill="url(#go)"/>
<circle cx="587.2" cy="128.4" r="8.1" fill="url(#gz)"/>
<circle cx="566.1" cy="127.8" r="6.9" fill="url(#gz)"/>
<circle cx="561.7" cy="128.3" r="3.6" fill="url(#go)"/>
<circle cx="617.1" cy="128.5" r="8.2" fill="url(#gz)"/>
<circle cx="648.9" cy="127.5" r="7.1" fill="url(#gz)"/>
<circle cx="643.4" cy="128.0" r="3.4" fill="url(#go)"/>
<circle cx="671.5" cy="127.8" r="8.3" fill="url(#gz)"/>
<circle cx="550.2" cy="153.4" r="8.3" fill="url(#gz)"/>
<circle cx="558.3" cy="152.1" r="6.6" fill="url(#gz)"/>
<circle cx="555.8" cy="150.9" r="2.5" fill="url(#go)"/>
<circle cx="608.0" cy="148.4" r="2.5" fill="url(#go)"/>
<circle cx="603.7" cy="154.0" r="7.8" fill="url(#gz)"/>
<circle cx="603.7" cy="150.9" r="3.5" fill="url(#go)"/>
<circle cx="631.6" cy="152.7" r="9.0" fill="url(#gz)"/>
<circle cx="570.0" cy="170.1" r="2.5" fill="url(#go)"/>
<circle cx="563.8" cy="174.4" r="7.5" fill="url(#gz)"/>
<circle cx="562.6" cy="175.0" r="3.4" fill="url(#go)"/>
<circle cx="589.9" cy="183.7" r="2.6" fill="url(#go)"/>
<circle cx="586.8" cy="175.7" r="7.8" fill="url(#gz)"/>
<circle cx="594.2" cy="171.3" r="7.8" fill="url(#gz)"/>
<circle cx="644.0" cy="173.2" r="8.3" fill="url(#gz)"/>
<circle cx="644.6" cy="175.0" r="3.6" fill="url(#go)"/>
<circle cx="671.5" cy="173.2" r="9.9" fill="url(#gz)"/>
<circle cx="551.0" cy="196.0" r="7.8" fill="url(#gz)"/>
<circle cx="631.0" cy="197.0" r="7.8" fill="url(#gz)"/></g>
<g transform="translate(29,187.3) scale(0.94)"><g clip-path="url(#cc)"><path d="M540.1,105.3L559.1,85.6M541.9,107.1L560.9,87.4M549.6,105.3L568.6,85.6M551.4,107.1L570.4,87.4M545.9,105.3L567.0,126.9M544.1,107.1L565.2,128.7M551.7,105.4L567.2,127.0M549.5,107.0L565.0,128.6M566.1,126.5L587.2,127.1M566.1,129.1L587.2,129.7M567.2,128.5L551.3,154.1M565.0,127.1L549.1,152.7M567.3,128.2L559.5,152.5M564.9,127.4L557.1,151.7M594.7,127.6L600.3,102.1M597.3,128.2L602.9,102.7M597.2,127.5L604.9,153.6M594.8,128.3L602.5,154.4M601.7,101.1L630.7,102.9M601.5,103.7L630.5,105.5M601.6,102.4L588.0,87.0M630.6,104.2L641.0,87.0M630.6,104.2L648.9,127.5M648.9,127.5L671.5,127.8M648.9,127.5L631.6,152.7M603.6,152.7L631.5,151.4M603.8,155.3L631.7,154.0M632.7,152.0L645.1,172.5M630.5,153.4L642.9,173.9M603.7,154.0L594.2,171.3M551.3,152.7L564.9,173.7M549.1,154.1L562.7,175.1M559.6,151.8L565.1,174.1M557.0,152.4L562.5,174.7M563.9,173.1L586.9,174.4M563.7,175.7L586.7,177.0M644.0,171.9L671.5,171.9M644.0,174.5L671.5,174.5M644.0,173.2L631.0,197.0M595.3,170.7L608.1,194.4M593.1,171.9L605.9,195.6M564.9,175.1L551.1,194.7M562.7,173.7L548.9,193.3M667.0,85.5L660.0,80.0" stroke="#8b8e8b" stroke-width="1.7" fill="none"/>
<path d="M540.1,105.3L559.1,85.6M541.9,107.1L560.9,87.4M549.6,105.3L568.6,85.6M551.4,107.1L570.4,87.4M545.9,105.3L567.0,126.9M544.1,107.1L565.2,128.7M551.7,105.4L567.2,127.0M549.5,107.0L565.0,128.6M566.1,126.5L587.2,127.1M566.1,129.1L587.2,129.7M567.2,128.5L551.3,154.1M565.0,127.1L549.1,152.7M567.3,128.2L559.5,152.5M564.9,127.4L557.1,151.7M594.7,127.6L600.3,102.1M597.3,128.2L602.9,102.7M597.2,127.5L604.9,153.6M594.8,128.3L602.5,154.4M601.7,101.1L630.7,102.9M601.5,103.7L630.5,105.5M601.6,102.4L588.0,87.0M630.6,104.2L641.0,87.0M630.6,104.2L648.9,127.5M648.9,127.5L671.5,127.8M648.9,127.5L631.6,152.7M603.6,152.7L631.5,151.4M603.8,155.3L631.7,154.0M632.7,152.0L645.1,172.5M630.5,153.4L642.9,173.9M603.7,154.0L594.2,171.3M551.3,152.7L564.9,173.7M549.1,154.1L562.7,175.1M559.6,151.8L565.1,174.1M557.0,152.4L562.5,174.7M563.9,173.1L586.9,174.4M563.7,175.7L586.7,177.0M644.0,171.9L671.5,171.9M644.0,174.5L671.5,174.5M644.0,173.2L631.0,197.0M595.3,170.7L608.1,194.4M593.1,171.9L605.9,195.6M564.9,175.1L551.1,194.7M562.7,173.7L548.9,193.3M667.0,85.5L660.0,80.0" stroke="#d2d4d2" stroke-width="0.6" fill="none"/>
<circle cx="545.0" cy="106.2" r="7.8" fill="url(#gz)"/>
<circle cx="550.6" cy="106.2" r="8.0" fill="url(#gz)"/>
<circle cx="558.4" cy="106.8" r="7.1" fill="url(#gz)"/>
<circle cx="555.6" cy="106.8" r="2.4" fill="url(#go)"/>
<circle cx="591.0" cy="83.5" r="7.3" fill="url(#gz)"/>
<circle cx="601.6" cy="102.4" r="7.9" fill="url(#gz)"/>
<circle cx="603.3" cy="105.7" r="3.5" fill="url(#go)"/>
<circle cx="630.6" cy="104.2" r="9.0" fill="url(#gz)"/>
<circle cx="667.0" cy="85.5" r="7.8" fill="url(#gz)"/>
<circle cx="596.0" cy="127.9" r="6.8" fill="url(#gz)"/>
<circle cx="595.5" cy="128.4" r="2.6" fill="url(#go)"/>
<circle cx="587.2" cy="128.4" r="8.1" fill="url(#gz)"/>
<circle cx="566.1" cy="127.8" r="6.9" fill="url(#gz)"/>
<circle cx="561.7" cy="128.3" r="3.6" fill="url(#go)"/>
<circle cx="617.1" cy="128.5" r="8.2" fill="url(#gz)"/>
<circle cx="648.9" cy="127.5" r="7.1" fill="url(#gz)"/>
<circle cx="643.4" cy="128.0" r="3.4" fill="url(#go)"/>
<circle cx="671.5" cy="127.8" r="8.3" fill="url(#gz)"/>
<circle cx="550.2" cy="153.4" r="8.3" fill="url(#gz)"/>
<circle cx="558.3" cy="152.1" r="6.6" fill="url(#gz)"/>
<circle cx="555.8" cy="150.9" r="2.5" fill="url(#go)"/>
<circle cx="608.0" cy="148.4" r="2.5" fill="url(#go)"/>
<circle cx="603.7" cy="154.0" r="7.8" fill="url(#gz)"/>
<circle cx="603.7" cy="150.9" r="3.5" fill="url(#go)"/>
<circle cx="631.6" cy="152.7" r="9.0" fill="url(#gz)"/>
<circle cx="570.0" cy="170.1" r="2.5" fill="url(#go)"/>
<circle cx="563.8" cy="174.4" r="7.5" fill="url(#gz)"/>
<circle cx="562.6" cy="175.0" r="3.4" fill="url(#go)"/>
<circle cx="589.9" cy="183.7" r="2.6" fill="url(#go)"/>
<circle cx="586.8" cy="175.7" r="7.8" fill="url(#gz)"/>
<circle cx="594.2" cy="171.3" r="7.8" fill="url(#gz)"/>
<circle cx="644.0" cy="173.2" r="8.3" fill="url(#gz)"/>
<circle cx="644.6" cy="175.0" r="3.6" fill="url(#go)"/>
<circle cx="671.5" cy="173.2" r="9.9" fill="url(#gz)"/>
<circle cx="551.0" cy="196.0" r="7.8" fill="url(#gz)"/>
<circle cx="631.0" cy="197.0" r="7.8" fill="url(#gz)"/></g></g>
<path d="M562.8,175V211.5M557,201.5L562.8,211.8L568.6,201.5" fill="none" stroke="#ff0000" stroke-width="2.6" stroke-linejoin="miter"/>
<path d="M620,302.9L646.5,287.8M636.6,288.1L647.6,287.3L641.5,296.2" stroke="#ff0000" stroke-width="2.7" fill="none" stroke-linejoin="miter"/>
<g font-family="'Liberation Serif', 'Times New Roman', serif" fill="#000" stroke="#000" stroke-width="0.35">
<text x="522.5" y="89.6" font-size="31.0" font-weight="bold" text-anchor="start" >b</text>
<text x="521.3" y="264.6" font-size="31.0" font-weight="bold" text-anchor="start" >c</text>
<text x="545.6" y="235.8" font-size="19.5" font-weight="bold" text-anchor="start" >V</text>
<text x="560.5" y="240.5" font-size="15.5" font-weight="bold" text-anchor="start" >O</text>
<text transform="translate(649.6,285.6) scale(1.13,1)" font-size="19.2" font-weight="bold">O</text>
<text x="665.6" y="289.8" font-size="14.5" font-weight="bold" font-style="italic" fill="#15152a">i</text>
<text x="669.6" y="279.3" font-size="13.5" font-weight="bold" text-anchor="start" >2-</text>
</g>
</svg>
</body></html>
